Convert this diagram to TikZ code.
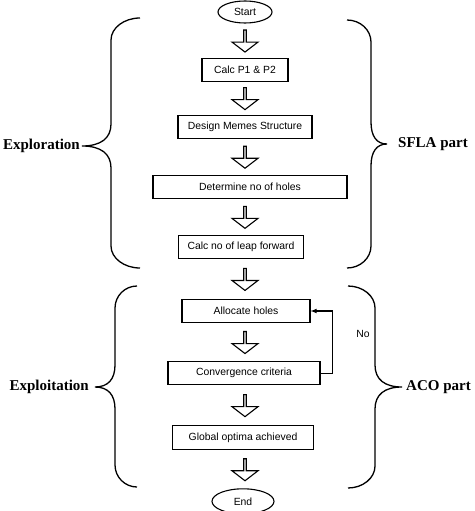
\documentclass[tikz,border=0pt]{standalone}
\usepackage{fontspec}
\setmainfont{Liberation Sans}
\newfontfamily\sidefont{Liberation Serif}
\usetikzlibrary{positioning, shapes.geometric, shapes.arrows}

\begin{document}
\begin{tikzpicture}[
        x=1pt, y=-1pt,
        stepbox/.style={draw, line width=1.1pt, minimum height=23pt, inner sep=2pt, font=\fontsize{10.4}{12}\selectfont},
        terminal/.style={stepbox, ellipse, inner sep=0pt},
        flowarrow/.style={single arrow, draw, line width=1.1pt, shape border rotate=270, minimum height=22pt,
                          minimum width=26pt, single arrow head extend=5pt, single arrow tip angle=105, inner sep=0pt},
        bracket/.style={line width=1.3pt},
        sidelbl/.style={font=\sidefont\bfseries\fontsize{15}{18}\selectfont, inner sep=0pt},
    ]
    \useasboundingbox (0,0) rectangle (474,511);

    % main flow
    \node[terminal, minimum width=54pt, minimum height=22pt] (start) at (245,12) {Start};
    \node[stepbox, minimum width=86pt, below=34pt of start] (calc) {Calc P1 \& P2};
    \node[stepbox, minimum width=134pt, below=33pt of calc] (design) {Design Memes Structure};
    \node[stepbox, minimum width=194pt, below=36pt of design, xshift=5pt] (holes) {Determine no of holes};
    \node[stepbox, minimum width=125pt, below=36pt of holes, xshift=-9pt] (leap) {Calc no of leap forward};
    \node[stepbox, minimum width=128pt, below=40pt of leap, xshift=5pt] (alloc) {Allocate holes};
    \node[stepbox, minimum width=152pt, below=38pt of alloc, xshift=-2pt] (conv) {Convergence criteria};
    \node[stepbox, minimum width=141pt, below=40pt of conv, xshift=-1pt, minimum height=24pt] (optima) {Global optima achieved};
    \node[terminal, minimum width=62pt, minimum height=25pt, below=38pt of optima] (finish) {End};

    % hollow arrows between the steps
    \foreach \a/\b [count=\i] in {start/calc, calc/design, design/holes, holes/leap,
                                  leap/alloc, alloc/conv, conv/optima, optima/finish}
        \path (\a.south -| start) -- node[flowarrow] (arr\i) {} (\b.north -| start);

    % loop back
    \draw[line width=1.1pt, -latex] (conv.east) -- ++(12,0) |- (alloc.east);
    \node[font=\fontsize{10.4}{12}\selectfont] (no) at (363,334) {No};

    % braces
    \foreach \xe/\xv/\xt/\yt/\ym/\yb/\r/\nm in {140/111/82/18/146/268/22/brA, 347/371/387/20/144/268/22/brB,
                                               137/115/95/286/387/487/22/brC, 348/375/402/286/387/488/22/brD} {
        \draw[bracket] (\xe,\yt) .. controls ({\xv+0.45*(\xe-\xv)},\yt) and (\xv,{\yt+0.45*\r}) .. (\xv,{\yt+\r})
            -- (\xv,{\ym-\r}) .. controls (\xv,{\ym-0.35*\r}) and ({\xv+0.35*(\xt-\xv)},\ym) .. (\xt,\ym)
            .. controls ({\xv+0.35*(\xt-\xv)},\ym) and (\xv,{\ym+0.35*\r}) .. (\xv,{\ym+\r})
            -- (\xv,{\yb-\r}) .. controls (\xv,{\yb-0.45*\r}) and ({\xv+0.45*(\xe-\xv)},\yb) .. (\xe,\yb);
        \coordinate (\nm) at (\xt,\ym);
    }

    \node[sidelbl, left=2pt of brA] (explor) {Exploration};
    \node[sidelbl, right=11pt of brB] (sfla) {SFLA part};
    \node[sidelbl, left=6pt of brC] (exploit) {Exploitation};
    \node[sidelbl, right=4pt of brD] (aco) {ACO part};
\end{tikzpicture}
\end{document}
